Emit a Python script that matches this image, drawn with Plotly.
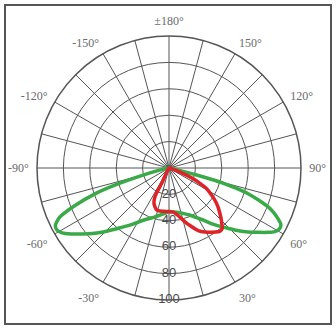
import plotly.graph_objects as go

# Green curve (C0-C180 plane) : angle in degrees (0 = downward), intensity
green_theta = [-78, -76.8, -74.6, -72.7, -70.8, -68.2, -65.7, -63.2, -61, -59, -56, -53, -49.5,
               -46.3, -42.5, -38.6, -34, -29.5, -23, -16, -10, -5, 0, 6, 12, 17, 23, 29, 34,
               38, 42, 45, 48, 51, 54.3, 57, 59, 61, 63.2, 65.1, 67, 68.5, 70.3, 72, 73.2,
               74.2, 75, 75.6, 76.5, 77.5]
green_r = [0, 8, 21, 40, 59, 77, 91, 96.5, 97, 95, 89.5, 83, 76.5,
           70.5, 63.5, 57.5, 52, 47, 42, 38.5, 36, 34.5, 33, 33.5, 34.5, 36, 38.5, 43, 48,
           54, 60, 65, 71, 77, 83.5, 89.5, 93.5, 95.5, 95, 91, 86, 81, 72, 63, 53,
           44, 33, 23, 11, 0]

# Red curve (C90-C270 plane)
red_theta = [-30, -28.7, -25.5, -26.5, -25, -22.7, -19.5, -16.4, -12, -7.5, -1, 5.6, 10, 14,
             17, 20, 25, 29, 32.6, 36, 38.9, 41.5, 43.4, 45.5, 48.1, 51.5, 54.8, 58, 61.1,
             63.5, 66, 69, 72]
red_r = [0, 3.6, 13, 22, 26.5, 29.4, 31.5, 33, 33.3, 33, 33, 33.6, 36, 39.7,
         43, 46.4, 52.3, 55.5, 57.7, 60, 61.5, 61, 58.2, 55.5, 51.9, 47.5, 42.7, 37.5, 32.6,
         26.5, 20.1, 8.9, 0]

radial_ticks = [20, 40, 60, 80, 100]
radial_labels = ["20", "40", "60", "80", "100"]

angular_vals = list(range(0, 360, 15))
angular_text_map = {30: "30°", 60: "60°", 90: "90°", 120: "120°", 150: "150°",
                    180: "±180°", 210: "-150°", 240: "-120°", 270: "-90°",
                    300: "-60°", 330: "-30°"}
angular_text = [angular_text_map.get(v, "") for v in angular_vals]

W, H = 336, 329
cx, cy, R = 169, 168, 132

fig = go.Figure()
fig.add_trace(go.Scatterpolar(
    r=green_r, theta=[t % 360 for t in green_theta], mode="lines",
    line=dict(color="#3aaa48", width=3.5, shape="spline", smoothing=0.6),
    hoverinfo="skip", showlegend=False))
fig.add_trace(go.Scatterpolar(
    r=red_r, theta=[t % 360 for t in red_theta], mode="lines",
    line=dict(color="#dd2428", width=3.5, shape="spline", smoothing=0.6),
    hoverinfo="skip", showlegend=False))
fig.add_trace(go.Scatterpolar(
    r=radial_ticks, theta=[0] * len(radial_ticks), mode="text",
    text=radial_labels, textposition="middle center", cliponaxis=False,
    textfont=dict(family="Liberation Sans", size=13, color="#4a4a4a"),
    hoverinfo="skip", showlegend=False))

fig.update_layout(
    width=W, height=H,
    margin=dict(l=0, r=0, t=0, b=0),
    paper_bgcolor="white", plot_bgcolor="white",
    polar=dict(
        domain=dict(x=[(cx - R) / W, (cx + R) / W],
                    y=[(H - cy - R) / H, (H - cy + R) / H]),
        bgcolor="white",
        angularaxis=dict(
            rotation=270, direction="counterclockwise",
            tickmode="array", tickvals=angular_vals, ticktext=angular_text,
            ticks="outside", ticklen=5, tickcolor="rgba(0,0,0,0)",
            showline=True, linecolor="#555555", linewidth=1.5,
            gridcolor="#555555", gridwidth=1.1,
            tickfont=dict(family="Liberation Serif", size=12, color="#6a6a6a")),
        radialaxis=dict(
            range=[0, 100], tickmode="array", tickvals=radial_ticks,
            showticklabels=False, ticks="", showline=False,
            gridcolor="#555555", gridwidth=1.1),
    ),
    shapes=[dict(type="rect", xref="paper", yref="paper",
                 x0=5 / W, x1=331 / W, y0=5 / H, y1=(H - 5) / H,
                 line=dict(color="#555555", width=2))],
)

fig.write_html("out.html")
